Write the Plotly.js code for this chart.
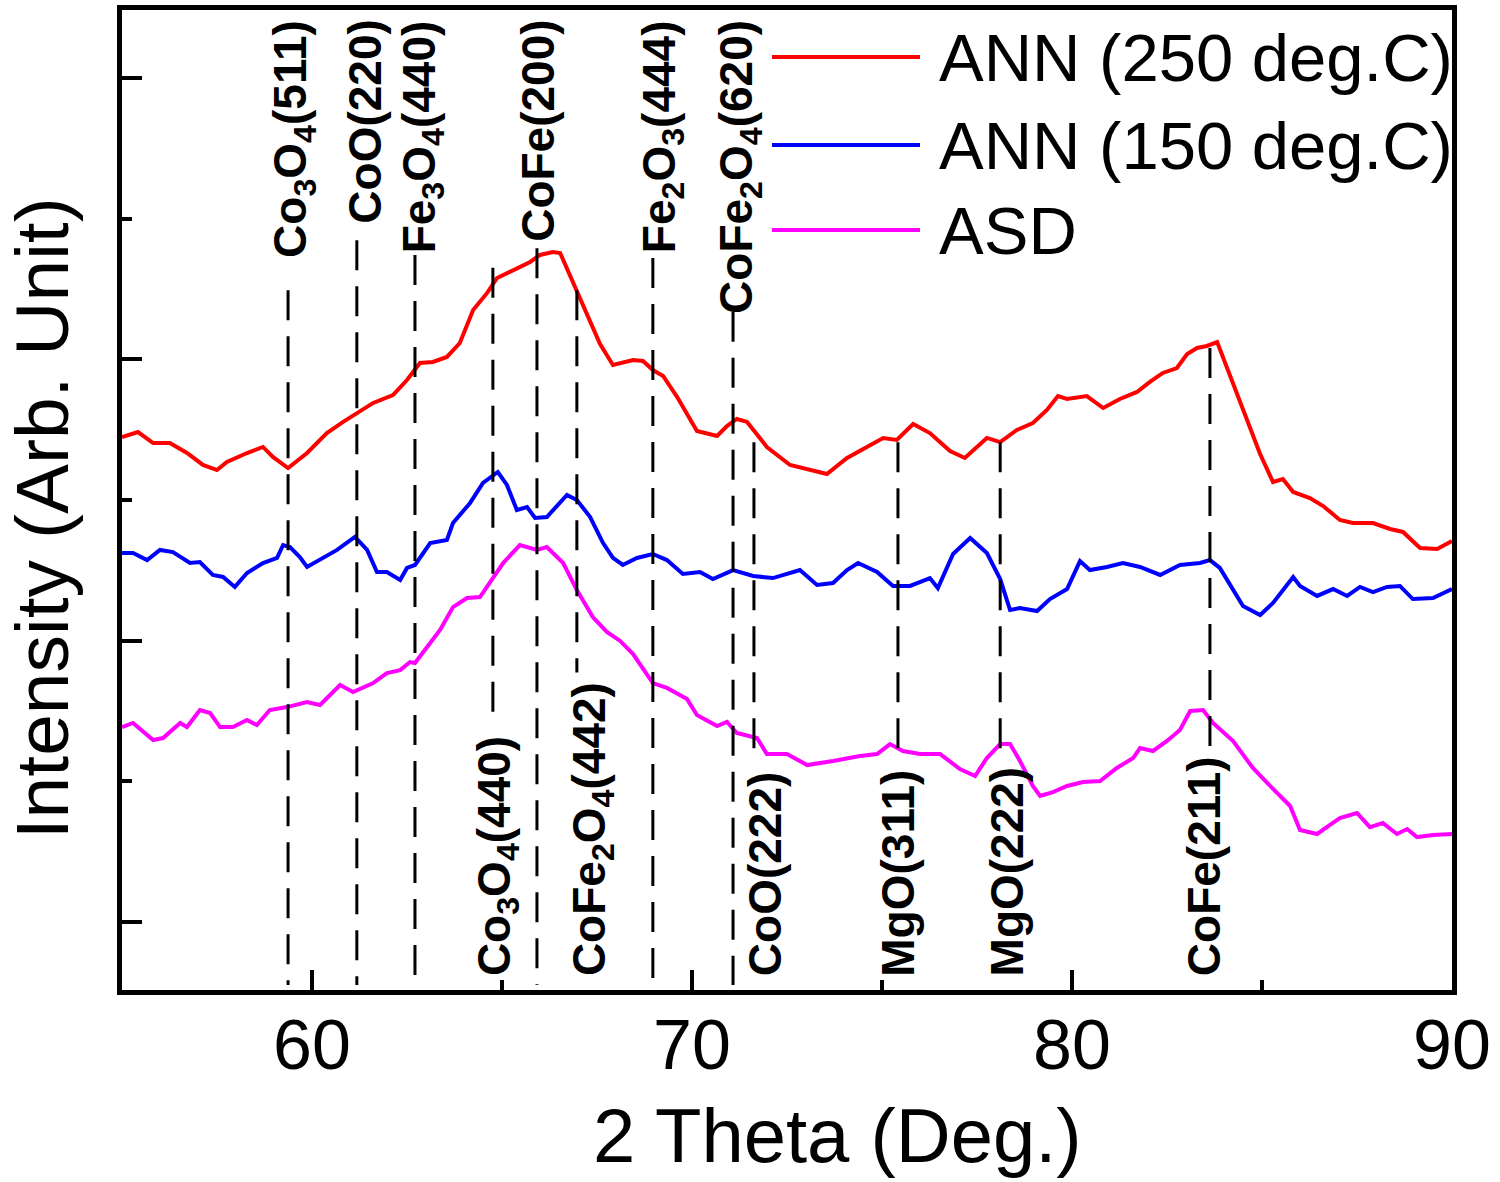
<!DOCTYPE html>
<html>
<head>
<meta charset="utf-8">
<script src="https://cdn.plot.ly/plotly-3.0.1.min.js"></script>
<style>
  html, body { margin: 0; padding: 0; background: #ffffff; }
  #chart { width: 1500px; height: 1182px; }
</style>
</head>
<body>
<div id="chart"></div>
<script>
// XRD scans, 2 theta (deg) vs intensity (arb. unit, offset per sample)
const twoTheta250 = [
  55.00, 55.42, 55.82, 56.26, 56.71, 57.13, 57.50, 57.76, 58.29, 58.71,
  58.97, 59.37, 59.87, 60.39, 60.82, 61.18, 61.61, 62.13, 62.50, 62.84,
  63.18, 63.55, 63.89, 64.24, 64.61, 64.87, 65.29, 65.74, 66.00, 66.34,
  66.53, 66.87, 67.24, 67.58, 67.92, 68.45, 68.71, 68.97, 69.24, 69.61,
  70.13, 70.66, 70.92, 71.18, 71.45, 71.97, 72.58, 73.03, 73.55, 74.08,
  74.61, 75.03, 75.39, 75.82, 76.26, 76.79, 77.18, 77.76, 78.11, 78.55,
  78.97, 79.34, 79.63, 79.87, 80.39, 80.82, 81.26, 81.71, 82.05, 82.39,
  82.76, 83.03, 83.29, 83.55, 83.82, 84.16, 84.50, 84.95, 85.29, 85.55,
  85.82, 86.26, 86.61, 87.05, 87.39, 87.92, 88.37, 88.71, 89.16, 89.61,
  90.00
];
const intensity250 = [
  344.8, 348.3, 340.5, 340.5, 333.4, 324.9, 321.3, 327.0, 333.4, 337.7,
  330.6, 322.7, 333.4, 347.6, 355.5, 361.9, 369.0, 374.6, 385.3, 397.4,
  398.1, 401.7, 411.6, 435.1, 447.2, 457.8, 463.5, 469.2, 474.2, 476.3,
  475.6, 454.3, 432.9, 410.9, 396.0, 399.5, 398.8, 392.4, 388.2, 373.2,
  349.1, 345.5, 352.6, 357.6, 355.5, 337.7, 324.9, 322.0, 318.5, 329.9,
  337.7, 344.1, 342.7, 354.0, 347.6, 334.8, 329.9, 344.1, 341.2, 349.8,
  354.7, 364.0, 373.9, 371.8, 373.9, 365.4, 371.8, 376.8, 383.9, 390.3,
  393.8, 403.8, 408.1, 409.5, 412.3, 388.9, 364.0, 332.7, 312.8, 314.9,
  305.7, 301.4, 295.7, 285.8, 283.6, 283.6, 279.4, 277.3, 265.9, 265.2,
  270.9
];

const twoTheta150 = [
  55.00, 55.29, 55.66, 56.00, 56.34, 56.79, 57.05, 57.39, 57.66, 57.97,
  58.29, 58.71, 59.08, 59.24, 59.42, 59.68, 59.87, 60.21, 60.66, 61.13,
  61.45, 61.71, 61.97, 62.32, 62.50, 62.71, 63.11, 63.55, 63.71, 64.16,
  64.50, 64.89, 65.13, 65.39, 65.66, 65.87, 66.18, 66.71, 66.97, 67.32,
  67.66, 67.92, 68.18, 68.55, 68.97, 69.34, 69.76, 70.21, 70.55, 71.08,
  71.61, 72.13, 72.84, 73.29, 73.71, 74.08, 74.37, 74.87, 75.29, 75.74,
  76.26, 76.47, 76.87, 77.32, 77.76, 78.11, 78.37, 78.63, 79.08, 79.42,
  79.87, 80.21, 80.47, 80.92, 81.34, 81.79, 82.32, 82.84, 83.37, 83.63,
  83.89, 84.50, 84.95, 85.29, 85.82, 86.00, 86.45, 86.87, 87.24, 87.58,
  87.92, 88.29, 88.63, 88.97, 89.50, 90.00
];
const intensity150 = [
  262.3, 262.3, 257.3, 264.5, 263.0, 255.2, 255.9, 246.7, 245.3, 238.2,
  248.1, 255.2, 258.8, 268.0, 266.6, 259.5, 252.4, 257.3, 264.5, 273.7,
  264.5, 248.8, 248.8, 243.1, 251.7, 253.8, 269.4, 271.6, 283.6, 297.9,
  312.1, 319.9, 310.7, 292.9, 295.0, 287.2, 287.9, 303.6, 300.0, 287.9,
  269.4, 258.8, 253.8, 258.8, 261.6, 257.3, 247.4, 248.8, 243.8, 250.2,
  246.0, 244.5, 250.2, 239.6, 241.0, 250.2, 255.2, 248.8, 238.9, 238.9,
  244.5, 237.4, 261.6, 273.0, 262.3, 243.8, 221.8, 223.2, 221.1, 229.6,
  236.7, 256.6, 250.2, 252.4, 255.2, 252.4, 246.7, 253.8, 255.2, 257.3,
  251.7, 224.6, 218.2, 226.8, 245.3, 238.9, 231.8, 236.7, 231.8, 238.2,
  234.6, 238.2, 238.9, 229.6, 230.3, 236.7
];

const twoThetaASD = [
  55.00, 55.29, 55.82, 56.08, 56.53, 56.71, 57.05, 57.32, 57.58, 57.92,
  58.29, 58.55, 58.89, 59.34, 59.87, 60.21, 60.74, 61.08, 61.61, 61.97,
  62.32, 62.58, 62.71, 63.03, 63.37, 63.71, 64.08, 64.42, 64.68, 65.03,
  65.47, 65.92, 66.18, 66.61, 66.97, 67.39, 67.76, 68.11, 68.45, 68.97,
  69.34, 69.87, 70.13, 70.66, 70.92, 71.18, 71.71, 71.97, 72.50, 73.03,
  73.71, 74.42, 74.87, 75.21, 75.55, 76.00, 76.53, 77.05, 77.45, 77.76,
  78.11, 78.37, 78.63, 78.97, 79.16, 79.50, 79.87, 80.29, 80.74, 81.18,
  81.61, 81.79, 82.13, 82.50, 82.84, 83.11, 83.45, 83.71, 84.24, 84.76,
  85.29, 85.74, 86.00, 86.45, 86.79, 87.05, 87.50, 87.84, 88.18, 88.55,
  88.82, 89.08, 89.50, 90.00
];
const intensityASD = [
  138.6, 141.5, 129.4, 130.8, 141.5, 138.6, 150.7, 148.6, 138.6, 138.6,
  143.6, 140.0, 150.7, 152.8, 156.4, 154.3, 168.5, 163.5, 169.9, 177.0,
  179.1, 184.8, 184.1, 195.5, 207.6, 223.9, 230.3, 231.0, 241.0, 255.2,
  268.0, 264.5, 266.6, 255.2, 236.0, 216.8, 206.2, 199.8, 190.5, 169.9,
  166.4, 158.5, 147.2, 139.3, 142.2, 134.4, 130.8, 119.4, 119.4, 111.6,
  114.5, 118.0, 119.4, 126.5, 121.6, 119.4, 119.4, 108.8, 103.8, 116.6,
  126.5, 126.5, 114.5, 96.7, 89.6, 92.4, 96.7, 99.5, 100.2, 109.5,
  116.6, 123.7, 121.6, 128.7, 136.5, 150.0, 150.7, 141.5, 128.7, 109.5,
  94.6, 82.5, 65.4, 62.6, 69.0, 73.9, 77.5, 67.5, 70.4, 62.6,
  66.1, 60.4, 61.8, 62.6
];

const seriesNames = ['ANN (250 deg.C)', 'ANN (150 deg.C)', 'ASD'];
const seriesColors = ['#ff0000', '#0000ff', '#ff00ff'];

// Reference reflections (2 theta, deg) and their phase labels
const peakPos = [59.37, 61.18, 62.71, 64.76, 65.92, 66.97, 68.97, 71.08, 71.63, 75.42, 78.11, 83.63];
const peakLabels = [
  'Co<sub>3</sub>O<sub>4</sub>(511)', 'CoO(220)', 'Fe<sub>3</sub>O<sub>4</sub>(440)',
  'Co<sub>3</sub>O<sub>4</sub>(440)', 'CoFe(200)', 'CoFe<sub>2</sub>O<sub>4</sub>(442)',
  'Fe<sub>2</sub>O<sub>3</sub>(444)', 'CoFe<sub>2</sub>O<sub>4</sub>(620)', 'CoO(222)',
  'MgO(311)', 'MgO(222)', 'CoFe(211)'
];

// Where each marker line runs (paper fractions) and on which end its label sits
const markerPlacement = [
  { top: 0.714, bottom: 0.005, side: 'top',    dx: 6 },
  { top: 0.765, bottom: 0.005, side: 'top',    dx: 8 },
  { top: 0.750, bottom: 0.005, side: 'top',    dx: 7 },
  { top: 0.737, bottom: 0.284, side: 'bottom', dx: 4 },
  { top: 0.757, bottom: 0.005, side: 'top',    dx: 1 },
  { top: 0.714, bottom: 0.324, side: 'bottom', dx: 15 },
  { top: 0.747, bottom: 0.005, side: 'top',    dx: 9 },
  { top: 0.692, bottom: 0.005, side: 'top',    dx: 7 },
  { top: 0.559, bottom: 0.240, side: 'bottom', dx: 11 },
  { top: 0.559, bottom: 0.235, side: 'bottom', dx: 0 },
  { top: 0.559, bottom: 0.235, side: 'bottom', dx: 7 },
  { top: 0.655, bottom: 0.245, side: 'bottom', dx: -6 }
];

const FONT = 'Liberation Sans, Arial, Helvetica, sans-serif';

const traces = [
  { x: twoTheta250, y: intensity250 },
  { x: twoTheta150, y: intensity150 },
  { x: twoThetaASD, y: intensityASD }
].map((s, i) => ({
  type: 'scatter',
  mode: 'lines',
  name: seriesNames[i],
  x: s.x,
  y: s.y,
  line: { color: seriesColors[i], width: 4 },
  showlegend: false,
  hoverinfo: 'skip'
}));

const shapes = [];
const annotations = [];

peakPos.forEach((pos, i) => {
  const p = markerPlacement[i];
  shapes.push({
    type: 'line', xref: 'x', yref: 'paper',
    x0: pos, x1: pos, y0: p.top, y1: p.bottom,
    line: { color: '#000000', width: 3, dash: '30px,16px' }
  });
  annotations.push({
    xref: 'x', yref: 'paper',
    x: pos, xshift: p.dx,
    y: p.side === 'top' ? 0.992 : 0.012,
    yanchor: p.side === 'top' ? 'top' : 'bottom',
    xanchor: 'center',
    text: '<b>' + peakLabels[i] + '</b>',
    textangle: -90,
    showarrow: false,
    font: { family: FONT, size: 46, color: '#000000' }
  });
});

// Legend drawn inside the frame, upper right
const legendRows = [0.952, 0.8622, 0.7755];
seriesNames.forEach((name, i) => {
  shapes.push({
    type: 'line', xref: 'paper', yref: 'paper',
    x0: 0.4887, x1: 0.600, y0: legendRows[i], y1: legendRows[i],
    line: { color: seriesColors[i], width: 4 }
  });
  annotations.push({
    xref: 'paper', yref: 'paper',
    x: 0.6128, y: legendRows[i],
    xanchor: 'left', yanchor: 'middle',
    text: name, showarrow: false,
    font: { family: FONT, size: 67, color: '#000000' }
  });
});

// Axis titles
annotations.push({
  xref: 'paper', yref: 'paper', x: 0.5376, y: -0.148,
  xanchor: 'center', yanchor: 'middle',
  text: '2 Theta (Deg.)', showarrow: false,
  font: { family: FONT, size: 76, color: '#000000' }
});
annotations.push({
  xref: 'paper', yref: 'paper', x: -0.060, y: 0.4816,
  xanchor: 'center', yanchor: 'middle',
  text: 'Intensity (Arb. Unit)', textangle: -90, showarrow: false,
  font: { family: FONT, size: 75, color: '#000000' }
});

const layout = {
  width: 1500,
  height: 1182,
  margin: { l: 122, r: 48, t: 10, b: 192 },
  paper_bgcolor: '#ffffff',
  plot_bgcolor: '#ffffff',
  showlegend: false,
  font: { family: FONT, color: '#000000' },
  xaxis: {
    range: [55, 90],
    tickmode: 'linear', tick0: 60, dtick: 10,
    ticks: 'inside', ticklen: 20, tickwidth: 4, tickcolor: '#000000',
    ticklabelstandoff: -10,
    minor: { tickmode: 'linear', tick0: 55, dtick: 5, ticks: 'inside', ticklen: 10, tickwidth: 4, tickcolor: '#000000', showgrid: false },
    showline: true, linewidth: 5, linecolor: '#000000', mirror: true,
    showgrid: false, zeroline: false,
    tickfont: { family: FONT, size: 70, color: '#000000' }
  },
  yaxis: {
    range: [-48.3, 648.3],
    tickmode: 'linear', tick0: 0, dtick: 200,
    ticks: 'inside', ticklen: 20, tickwidth: 4, tickcolor: '#000000',
    minor: { tickmode: 'linear', tick0: 0, dtick: 100, ticks: 'inside', ticklen: 10, tickwidth: 4, tickcolor: '#000000', showgrid: false },
    showline: true, linewidth: 5, linecolor: '#000000', mirror: true,
    showgrid: false, zeroline: false,
    showticklabels: false
  },
  shapes: shapes,
  annotations: annotations
};

Plotly.newPlot('chart', traces, layout, { displayModeBar: false, staticPlot: true });
</script>
</body>
</html>
